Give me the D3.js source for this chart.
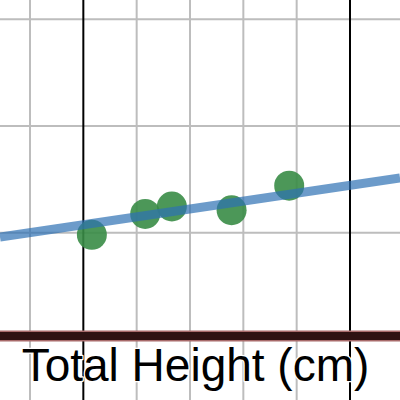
<!DOCTYPE html>
<html>
<head>
<meta charset="utf-8">
<script src="https://cdn.jsdelivr.net/npm/d3@7"></script>
<style>
  body { margin: 0; background: #fff; }
  svg { display: block; }
</style>
</head>
<body>
<div id="chart"></div>
<script>
// grid values (graph units)
var xGrid = [-1, 0, 1, 2, 3, 4, 5];
var xDark = [0, 5];
var yGrid = [1, 2, 3];
var baseY = 0.03;

// measured points
var ptX = [0.16, 1.16, 1.66, 2.78, 3.86];
var ptY = [0.98, 1.175, 1.245, 1.21, 1.44];

// trend line end points
var lineX = [-1.5625, 5.9375];
var lineY = [0.959, 1.512];

var axisLabel = "Total Height (cm)";

var width = 400, height = 400;

var x = d3.scaleLinear().domain([-1.5625, 5.9375]).range([0, width]);
var y = d3.scaleLinear().domain([-0.569, 3.181]).range([height, 0]);

var svg = d3.select("#chart")
	.append("svg")
	.attr("width", width)
	.attr("height", height);

// gray grid
svg.append("g").selectAll("line")
	.data(xGrid.filter(function(d){ return xDark.indexOf(d) < 0; }))
	.enter().append("line")
	.attr("x1", d => x(d)).attr("x2", d => x(d))
	.attr("y1", 0).attr("y2", height)
	.attr("stroke", "#bdbdbd").attr("stroke-width", 2);

svg.append("g").selectAll("line")
	.data(yGrid)
	.enter().append("line")
	.attr("x1", 0).attr("x2", width)
	.attr("y1", d => y(d)).attr("y2", d => y(d))
	.attr("stroke", "#bdbdbd").attr("stroke-width", 2);

// black verticals
svg.append("g").selectAll("line")
	.data(xDark)
	.enter().append("line")
	.attr("x1", d => x(d)).attr("x2", d => x(d))
	.attr("y1", 0).attr("y2", height)
	.attr("stroke", "#000").attr("stroke-width", 2);

// points
svg.append("g").selectAll("circle")
	.data(ptX.map(function(d, i){ return [d, ptY[i]]; }))
	.enter().append("circle")
	.attr("cx", d => x(d[0]))
	.attr("cy", d => y(d[1]))
	.attr("r", 15)
	.attr("fill", "#388c46")
	.attr("fill-opacity", 0.9);

// trend line
svg.append("line")
	.attr("x1", x(lineX[0])).attr("y1", y(lineY[0]))
	.attr("x2", x(lineX[1])).attr("y2", y(lineY[1]))
	.attr("stroke", "#2d70b3")
	.attr("stroke-opacity", 0.7)
	.attr("stroke-width", 9);

// base axis band
svg.append("line")
	.attr("x1", 0).attr("x2", width)
	.attr("y1", y(baseY)).attr("y2", y(baseY))
	.attr("stroke", "#a86a6a").attr("stroke-width", 11);
svg.append("line")
	.attr("x1", 0).attr("x2", width)
	.attr("y1", y(baseY)).attr("y2", y(baseY))
	.attr("stroke", "#2e1212").attr("stroke-width", 8);

// label
svg.append("text")
	.attr("x", 195.5)
	.attr("y", 381)
	.attr("text-anchor", "middle")
	.attr("font-family", "'Liberation Sans', Arial, sans-serif")
	.attr("font-size", 46)
	.attr("fill", "#000")
	.attr("stroke", "#fff")
	.attr("stroke-width", 2.5)
	.attr("stroke-linejoin", "round")
	.attr("paint-order", "stroke")
	.text(axisLabel);
</script>
</body>
</html>
